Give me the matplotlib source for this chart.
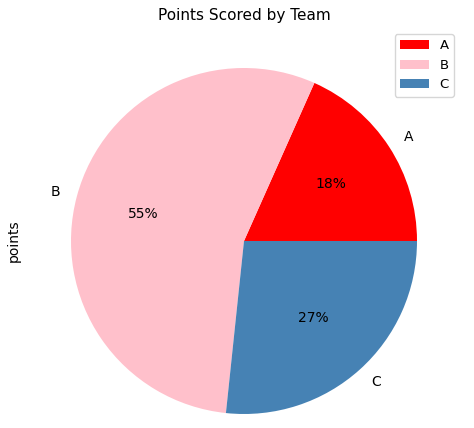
import matplotlib
matplotlib.use('Agg')
import matplotlib.pyplot as plt

# points scored by each team
teams = ['A', 'B', 'C']
points = [11, 33, 16]
colors = ['red', 'pink', 'steelblue']

W, H = 474, 428
fig = plt.figure(figsize=(W / 100, H / 100), dpi=100)

# pie centre ~(244, 241) px from top-left, radius ~173 px
lim = 1.2
r_px = 173
side = 2 * lim * r_px
cx, cy = 244, H - 241
ax = fig.add_axes([(cx - side / 2) / W, (cy - side / 2) / H, side / W, side / H])

wedges, texts, autotexts = ax.pie(points, labels=teams, colors=colors,
                                  autopct='%1.0f%%', startangle=0)
ax.set_xlim(-lim, lim)
ax.set_ylim(-lim, lim)
ax.set_aspect('equal')
ax.set_title('Points Scored by Team', fontsize=11, pad=10)
ax.set_ylabel('points')
ax.yaxis.set_label_coords((21 - (cx - side / 2)) / side, 0.5)
ax.legend(wedges, teams, loc='upper right', fontsize=9.5,
          bbox_to_anchor=(454 / W, 1 - 34 / H), bbox_transform=fig.transFigure,
          borderaxespad=0, handlelength=2.2)

fig.savefig('out.png', dpi=100)
